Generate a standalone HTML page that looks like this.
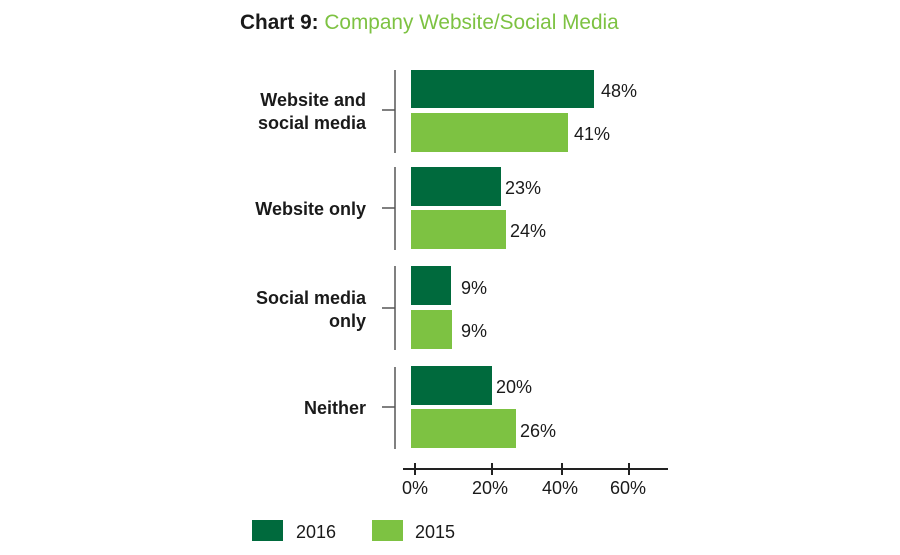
<!DOCTYPE html>
<html><head><style>
body{margin:0;background:#fff;}
svg text{font-family:"Liberation Sans",Arial,sans-serif;}
</style></head><body>
<svg width="900" height="550" viewBox="0 0 900 550" xmlns="http://www.w3.org/2000/svg">
<text x="240" y="29" font-size="20.8" font-weight="bold" fill="#1a1a1a">Chart 9: <tspan font-weight="normal" fill="#7dc242">Company Website/Social Media</tspan></text>
<g stroke="#555" stroke-width="1.5">
<line x1="395" y1="70" x2="395" y2="153"/><line x1="382" y1="110" x2="395" y2="110"/>
<line x1="395" y1="167" x2="395" y2="250"/><line x1="382" y1="208" x2="395" y2="208"/>
<line x1="395" y1="266" x2="395" y2="350"/><line x1="382" y1="308" x2="395" y2="308"/>
<line x1="395" y1="367" x2="395" y2="449"/><line x1="382" y1="407" x2="395" y2="407"/>
</g>
<g fill="#006a3d">
<rect x="411" y="70" width="183" height="38"/>
<rect x="411" y="167" width="90" height="39"/>
<rect x="411" y="266" width="40" height="39"/>
<rect x="411" y="366" width="81" height="39"/>
<rect x="252" y="520" width="31" height="21"/>
</g>
<g fill="#7dc242">
<rect x="411" y="113" width="157" height="39"/>
<rect x="411" y="210" width="95" height="39"/>
<rect x="411" y="310" width="41" height="39"/>
<rect x="411" y="409" width="105" height="39"/>
<rect x="372" y="520" width="31" height="21"/>
</g>
<g font-size="18" fill="#1a1a1a">
<text x="601" y="97">48%</text>
<text x="574" y="140">41%</text>
<text x="505" y="194">23%</text>
<text x="510" y="237">24%</text>
<text x="461" y="294">9%</text>
<text x="461" y="337">9%</text>
<text x="496" y="393">20%</text>
<text x="520" y="437">26%</text>
</g>
<g font-size="18" font-weight="bold" fill="#1a1a1a" text-anchor="end">
<text x="366" y="106">Website and</text>
<text x="366" y="129">social media</text>
<text x="366" y="215">Website only</text>
<text x="366" y="304">Social media</text>
<text x="366" y="327">only</text>
<text x="366" y="414">Neither</text>
</g>
<g stroke="#222" stroke-width="2">
<line x1="403" y1="469" x2="668" y2="469"/>
<line x1="415" y1="463" x2="415" y2="475"/>
<line x1="492" y1="463" x2="492" y2="475"/>
<line x1="562" y1="463" x2="562" y2="475"/>
<line x1="629" y1="463" x2="629" y2="475"/>
</g>
<g font-size="18" fill="#1a1a1a" text-anchor="middle">
<text x="415" y="494">0%</text>
<text x="490" y="494">20%</text>
<text x="560" y="494">40%</text>
<text x="628" y="494">60%</text>
</g>
<text x="296" y="538" font-size="18" fill="#1a1a1a">2016</text>
<text x="415" y="538" font-size="18" fill="#1a1a1a">2015</text>
</svg>
</body></html>
